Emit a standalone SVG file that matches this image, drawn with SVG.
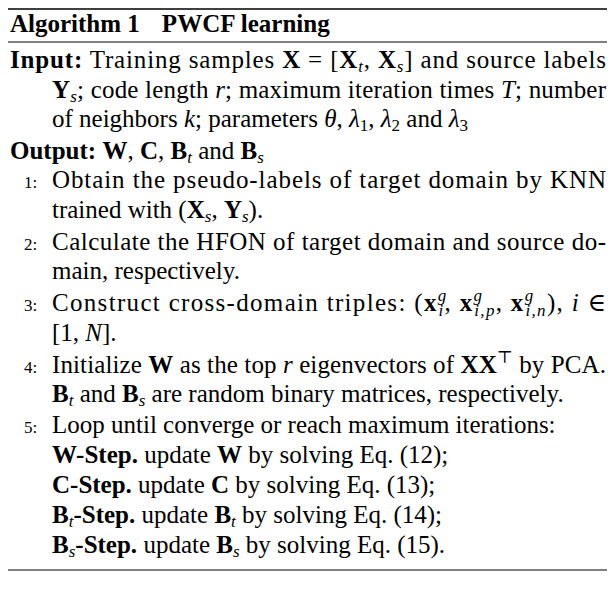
<svg xmlns="http://www.w3.org/2000/svg" width="615" height="605" viewBox="0 0 615 605">
<style>
text{font-family:"Liberation Serif","DejaVu Serif",serif;font-size:25px;fill:#000}
.n{font-size:17px}
.b{font-weight:bold}
.i{font-style:italic}
.s{font-size:17px}
</style>
<rect width="615" height="605" fill="#fff"/>
<line x1="8" y1="9" x2="607" y2="9" stroke="#000" stroke-width="1.6"/>
<line x1="8" y1="42" x2="607" y2="42" stroke="#000" stroke-width="1"/>
<line x1="8" y1="570" x2="607" y2="570" stroke="#000" stroke-width="1"/>
<text x="10" y="32" class="b">Algorithm 1<tspan dx="22">PWCF learning</tspan></text>
<text x="10" y="68" textLength="596" lengthAdjust="spacing"><tspan class="b">Input:</tspan> Training samples <tspan class="b">X</tspan> = [<tspan class="b">X</tspan><tspan class="s i" dy="4">t</tspan><tspan dy="-4">, </tspan><tspan class="b">X</tspan><tspan class="s i" dy="4">s</tspan><tspan dy="-4">] and source labels</tspan></text>
<text x="52" y="98" textLength="554" lengthAdjust="spacing"><tspan class="b">Y</tspan><tspan class="s i" dy="4">s</tspan><tspan dy="-4">; code length </tspan><tspan class="i">r</tspan>; maximum iteration times <tspan class="i">T</tspan>; number</text>
<text x="52" y="127">of neighbors <tspan class="i">k</tspan>; parameters <tspan class="i">θ</tspan>, <tspan class="i">λ</tspan><tspan class="s" dy="4">1</tspan><tspan dy="-4">, </tspan><tspan class="i">λ</tspan><tspan class="s" dy="4">2</tspan><tspan dy="-4"> and </tspan><tspan class="i">λ</tspan><tspan class="s" dy="4">3</tspan></text>
<text x="10" y="159"><tspan class="b">Output:</tspan> <tspan class="b">W</tspan>, <tspan class="b">C</tspan>, <tspan class="b">B</tspan><tspan class="s i" dy="4">t</tspan><tspan dy="-4"> and </tspan><tspan class="b">B</tspan><tspan class="s i" dy="4">s</tspan></text>
<text x="24" y="188" class="n">1:</text>
<text x="52" y="188" textLength="554" lengthAdjust="spacing">Obtain the pseudo-labels of target domain by KNN</text>
<text x="52" y="218">trained with (<tspan class="b">X</tspan><tspan class="s i" dy="4">s</tspan><tspan dy="-4">, </tspan><tspan class="b">Y</tspan><tspan class="s i" dy="4">s</tspan><tspan dy="-4">).</tspan></text>
<text x="24" y="250" class="n">2:</text>
<text x="52" y="250" textLength="554" lengthAdjust="spacing">Calculate the HFON of target domain and source do-</text>
<text x="52" y="279">main, respectively.</text>
<text x="24" y="311" class="n">3:</text>
<text x="52" y="311" textLength="554" lengthAdjust="spacing">Construct cross-domain triples: (<tspan class="b">x</tspan><tspan class="s i" dy="-10">g</tspan><tspan class="s i" dx="-9" dy="15">i</tspan><tspan dy="-5">, </tspan><tspan class="b">x</tspan><tspan class="s i" dy="-10">g</tspan><tspan class="s i" dx="-9" dy="15">i,p</tspan><tspan dy="-5">, </tspan><tspan class="b">x</tspan><tspan class="s i" dy="-10">g</tspan><tspan class="s i" dx="-9" dy="15">i,n</tspan><tspan dy="-5">), </tspan><tspan class="i">i</tspan> ∈</text>
<text x="52" y="341">[1, <tspan class="i">N</tspan>].</text>
<text x="24" y="373" class="n">4:</text>
<text x="52" y="373" textLength="554" lengthAdjust="spacing">Initialize <tspan class="b">W</tspan> as the top <tspan class="i">r</tspan> eigenvectors of <tspan class="b">XX</tspan><tspan class="s" dy="-10">⊤</tspan><tspan dy="10"> by PCA.</tspan></text>
<text x="52" y="402"><tspan class="b">B</tspan><tspan class="s i" dy="4">t</tspan><tspan dy="-4"> and </tspan><tspan class="b">B</tspan><tspan class="s i" dy="4">s</tspan><tspan dy="-4"> are random binary matrices, respectively.</tspan></text>
<text x="24" y="433" class="n">5:</text>
<text x="52" y="433">Loop until converge or reach maximum iterations:</text>
<text x="52" y="463"><tspan class="b">W-Step.</tspan> update <tspan class="b">W</tspan> by solving Eq. (12);</text>
<text x="52" y="493"><tspan class="b">C-Step.</tspan>  update <tspan class="b">C</tspan> by solving Eq. (13);</text>
<text x="52" y="523"><tspan class="b">B</tspan><tspan class="s i" dy="4">t</tspan><tspan class="b" dy="-4">-Step.</tspan> update <tspan class="b">B</tspan><tspan class="s i" dy="4">t</tspan><tspan dy="-4"> by solving Eq. (14);</tspan></text>
<text x="52" y="553"><tspan class="b">B</tspan><tspan class="s i" dy="4">s</tspan><tspan class="b" dy="-4">-Step.</tspan> update <tspan class="b">B</tspan><tspan class="s i" dy="4">s</tspan><tspan dy="-4"> by solving Eq. (15).</tspan></text>
</svg>
